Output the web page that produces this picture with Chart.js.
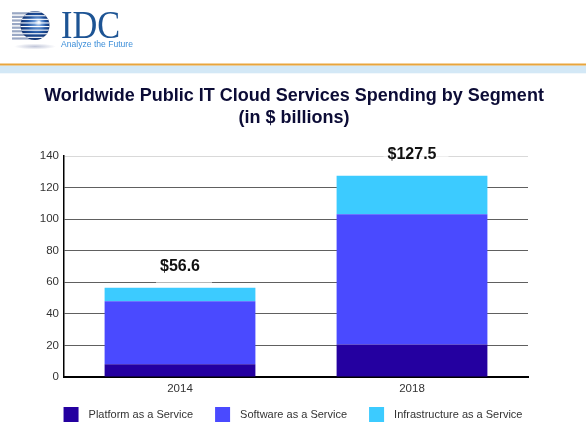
<!DOCTYPE html>
<html><head><meta charset="utf-8">
<script src="https://cdn.jsdelivr.net/npm/chart.js@4.4.0/dist/chart.umd.min.js"></script>
<style>html,body{margin:0;padding:0;background:#fff;}#wrap{width:586px;height:448px;position:relative}</style>
</head><body><div id="wrap"><canvas id="c" width="586" height="448"></canvas></div>
<script>
// ---- data ----
const years = ['2014', '2018'];
const paas = [8.1, 20.6];
const saas = [39.9, 82.5];
const iaas = [8.6, 24.4];
const seriesNames = ['Platform as a Service', 'Software as a Service', 'Infrastructure as a Service'];
const yTicks = [0, 20, 40, 60, 80, 100, 120, 140];
const titleLines = ['Worldwide Public IT Cloud Services Spending by Segment', '(in $ billions)'];
const logoText = 'IDC';
const logoTagline = 'Analyze the Future';

// ---- styles ----
const seriesColors = ['#2400a0', '#4a4aff', '#3ccbff'];
const FAMILY = '"Liberation Sans", Arial, Helvetica, sans-serif';
Chart.defaults.font.family = FAMILY;

const headerPlugin = {
  id: 'header',
  beforeDraw(chart) {
    const ctx = chart.ctx, W = chart.width;
    ctx.save();
    ctx.fillStyle = '#fff'; ctx.fillRect(0, 0, W, chart.height);
    // separator bars
    ctx.fillStyle = '#e9a53d'; ctx.fillRect(0, 63.5, W, 2.2);
    ctx.fillStyle = '#d3e8f6'; ctx.fillRect(0, 65.7, W, 7.6);
    // globe shadow
    ctx.save();
    ctx.translate(35, 46.5); ctx.scale(1, 0.14);
    const sg = ctx.createRadialGradient(0, 0, 0, 0, 0, 21);
    sg.addColorStop(0, 'rgba(140,150,185,0.55)'); sg.addColorStop(1, 'rgba(140,150,185,0)');
    ctx.fillStyle = sg; ctx.beginPath(); ctx.arc(0, 0, 21, 0, Math.PI * 2); ctx.fill();
    ctx.restore();
    // left stripes
    ctx.fillStyle = '#9aa8c4';
    for (let k = 0; k < 8; k++) ctx.fillRect(12, 12.2 + k * 3.6, 20, 2.2);
    // globe
    ctx.save();
    ctx.beginPath(); ctx.arc(35, 25.5, 14.5, 0, Math.PI * 2); ctx.clip();
    const g = ctx.createRadialGradient(39, 22, 0.5, 35, 25.5, 15);
    g.addColorStop(0, '#f2f7fd'); g.addColorStop(0.22, '#6d9ad6'); g.addColorStop(0.6, '#1f53a0'); g.addColorStop(1, '#0f2f6c');
    ctx.fillStyle = g; ctx.fillRect(19, 10, 32, 32);
    ctx.fillStyle = '#fff';
    for (let k = 0; k < 9; k++) ctx.fillRect(19, 11.6 + k * 3.6, 32, 1.1);
    ctx.restore();
    // IDC word mark
    ctx.save();
    ctx.translate(61, 37.7); ctx.scale(0.88, 1);
    ctx.font = '39px "Liberation Serif", "DejaVu Serif", serif';
    ctx.fillStyle = '#1d5494'; ctx.textBaseline = 'alphabetic';
    ctx.fillText(logoText, 0, 0);
    ctx.restore();
    ctx.save();
    ctx.font = '9px ' + FAMILY;
    const tw = ctx.measureText(logoTagline).width;
    ctx.translate(61, 47.3); ctx.scale(72 / tw, 1);
    ctx.fillStyle = '#3d8fd9'; ctx.textBaseline = 'alphabetic';
    ctx.fillText(logoTagline, 0, 0);
    ctx.restore();
    // title
    ctx.fillStyle = '#0c0c36';
    ctx.font = 'bold 18px ' + FAMILY;
    ctx.textAlign = 'center'; ctx.textBaseline = 'alphabetic';
    ctx.fillText(titleLines[0], 294, 100.7);
    ctx.fillText(titleLines[1], 294, 122.5);
    ctx.restore();
  }
};

const totalsPlugin = {
  id: 'totals',
  afterDatasetsDraw(chart) {
    const ctx = chart.ctx;
    const ds = chart.data.datasets;
    const topMeta = chart.getDatasetMeta(ds.length - 1);
    ctx.save();
    ctx.font = 'bold 16px ' + FAMILY;
    ctx.textAlign = 'center'; ctx.textBaseline = 'middle';
    chart.data.labels.forEach((lab, i) => {
      const bar = topMeta.data[i];
      const total = ds.reduce((s, d) => s + d.data[i], 0);
      const txt = '$' + total.toFixed(1);
      const w = ctx.measureText(txt).width;
      const cy = bar.y - 21;
      ctx.fillStyle = 'rgba(255,255,255,0.55)';
      ctx.fillRect(bar.x - w / 2 - 4, cy - 10, w + 16, 27);
      ctx.fillStyle = '#111';
      ctx.fillText(txt, bar.x, cy);
    });
    ctx.restore();
  }
};

const legendPlugin = {
  id: 'customLegend',
  afterDraw(chart) {
    const ctx = chart.ctx;
    ctx.save();
    ctx.font = '11px ' + FAMILY;
    const items = chart.data.datasets.map(d => ({ text: d.label, color: d.backgroundColor, w: ctx.measureText(d.label).width }));
    const box = 15, gapBT = 10, gapItem = 22;
    const total = items.reduce((s, it) => s + box + gapBT + it.w, 0) + gapItem * (items.length - 1);
    let x = chart.width / 2 - total / 2;
    const yTop = 407;
    items.forEach(it => {
      ctx.fillStyle = it.color; ctx.fillRect(x, yTop, box, box);
      ctx.fillStyle = '#333'; ctx.textBaseline = 'middle'; ctx.textAlign = 'left';
      ctx.fillText(it.text, x + box + gapBT, yTop + box / 2 + 0.5);
      x += box + gapBT + it.w + gapItem;
    });
    ctx.restore();
  }
};

new Chart(document.getElementById('c'), {
  type: 'bar',
  data: {
    labels: years,
    datasets: [
      { label: seriesNames[0], data: paas, backgroundColor: seriesColors[0] },
      { label: seriesNames[1], data: saas, backgroundColor: seriesColors[1] },
      { label: seriesNames[2], data: iaas, backgroundColor: seriesColors[2] }
    ]
  },
  options: {
    responsive: false,
    animation: false,
    devicePixelRatio: 1,
    layout: { padding: { top: 156, right: 58, bottom: 0, left: 0 } },
    datasets: { bar: { barPercentage: 0.65, categoryPercentage: 1.0, borderWidth: 0 } },
    plugins: { legend: { display: false }, title: { display: false }, tooltip: { enabled: false } },
    scales: {
      x: {
        stacked: true,
        grid: { display: false, drawTicks: false },
        border: { display: true, color: '#000', width: 2 },
        ticks: { color: '#333', font: { size: 11.5 }, padding: 5 },
        afterFit(s) { s.height = 71; }
      },
      y: {
        stacked: true, min: 0, max: 140,
        afterBuildTicks(s) { s.ticks = yTicks.map(v => ({ value: v })); },
        ticks: { color: '#333', font: { size: 11.5 }, padding: 5 },
        grid: { drawTicks: false, lineWidth: 1, color: c => (c.tick && c.tick.value === 140) ? '#d9d9d9' : '#606060' },
        border: { color: '#000', width: 1.5 },
        afterFit(s) { s.width = 64; }
      }
    }
  },
  plugins: [headerPlugin, totalsPlugin, legendPlugin]
});
</script>
</body></html>
